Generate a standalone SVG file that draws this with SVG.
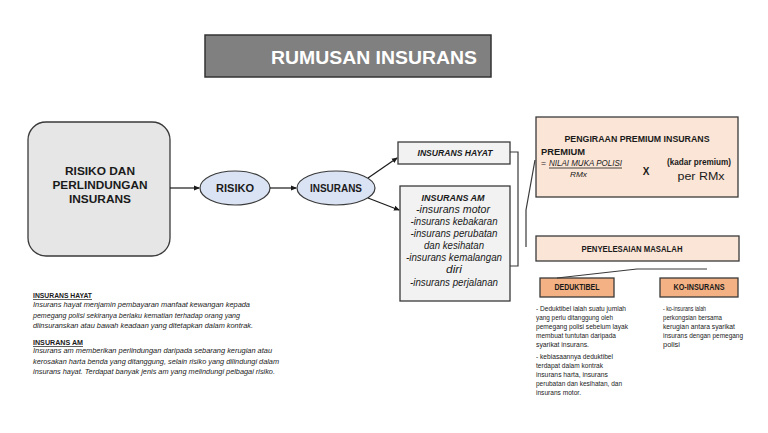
<svg xmlns="http://www.w3.org/2000/svg" width="768" height="433" viewBox="0 0 768 433">
<style>
text{font-family:"Liberation Sans",Arial,sans-serif;fill:#1a1a1a}
.b{font-weight:bold}
.i{font-style:italic}
.box{stroke:#3a3a3a;stroke-width:1.3}
.conn{stroke:#1a1a1a;stroke-width:1.2;fill:none}
.bl{stroke:#3a3a3a;stroke-width:1.2;fill:none}
.peach{fill:#fbe5d6}
.org{fill:#f4b183}
.ell{fill:#dae3f3;stroke:#3a3a3a;stroke-width:1.2}
</style>
<defs>
<marker id="ah" markerWidth="6" markerHeight="6" refX="5" refY="3" orient="auto" markerUnits="userSpaceOnUse">
<path d="M0,0.5 L6,3 L0,5.5 z" fill="#1a1a1a"/>
</marker>
</defs>
<rect width="768" height="433" fill="#ffffff"/>

<g id="title">
<rect x="205" y="35" width="286" height="42" fill="#808080" stroke="#333" stroke-width="1.5"/>
<text x="374" y="64" text-anchor="middle" class="b" font-size="18" style="fill:#ffffff" textLength="206" lengthAdjust="spacingAndGlyphs">RUMUSAN INSURANS</text>
</g>

<g id="risiko-perlindungan">
<rect x="28" y="122" width="142" height="134" rx="18" fill="#e6e6e6" class="box"/>
<text x="100" y="175" text-anchor="middle" class="b" font-size="11.5" textLength="70" lengthAdjust="spacingAndGlyphs">RISIKO DAN</text>
<text x="100" y="189" text-anchor="middle" class="b" font-size="11.5" textLength="95" lengthAdjust="spacingAndGlyphs">PERLINDUNGAN</text>
<text x="100" y="203" text-anchor="middle" class="b" font-size="11.5" textLength="62" lengthAdjust="spacingAndGlyphs">INSURANS</text>
</g>

<g id="risiko">
<ellipse cx="235" cy="188" rx="35" ry="17" class="ell"/>
<text x="235" y="192" text-anchor="middle" class="b" font-size="10" textLength="38" lengthAdjust="spacingAndGlyphs">RISIKO</text>
</g>

<g id="insurans">
<ellipse cx="336" cy="188" rx="39" ry="17" class="ell"/>
<text x="336" y="192" text-anchor="middle" class="b" font-size="10" textLength="52" lengthAdjust="spacingAndGlyphs">INSURANS</text>
</g>

<g id="insurans-hayat">
<rect x="398" y="142" width="112" height="22" fill="#f2f2f2" class="box"/>
<text x="455" y="156" text-anchor="middle" class="b i" font-size="9" textLength="75" lengthAdjust="spacingAndGlyphs">INSURANS HAYAT</text>
</g>

<g id="insurans-am">
<rect x="400" y="186" width="110" height="115" fill="#f2f2f2" class="box"/>
<text x="453" y="201" text-anchor="middle" class="b i" font-size="9.5" textLength="63" lengthAdjust="spacingAndGlyphs">INSURANS AM</text>
<text x="453" y="213" text-anchor="middle" class="i" font-size="10.5" textLength="74" lengthAdjust="spacingAndGlyphs">-insurans motor</text>
<text x="454" y="225" text-anchor="middle" class="i" font-size="10.5" textLength="87" lengthAdjust="spacingAndGlyphs">-insurans kebakaran</text>
<text x="454" y="237" text-anchor="middle" class="i" font-size="10.5" textLength="87" lengthAdjust="spacingAndGlyphs">-insurans perubatan</text>
<text x="454" y="249" text-anchor="middle" class="i" font-size="10.5" textLength="60" lengthAdjust="spacingAndGlyphs">dan kesihatan</text>
<text x="454" y="261" text-anchor="middle" class="i" font-size="10.5" textLength="96" lengthAdjust="spacingAndGlyphs">-insurans kemalangan</text>
<text x="454" y="273" text-anchor="middle" class="i" font-size="10.5" textLength="16" lengthAdjust="spacingAndGlyphs">diri</text>
<text x="454" y="286" text-anchor="middle" class="i" font-size="10.5" textLength="88" lengthAdjust="spacingAndGlyphs">-insurans perjalanan</text>
</g>

<g id="pengiraan">
<rect x="536" y="117" width="202" height="80" class="box peach"/>
<text x="637" y="142" text-anchor="middle" class="b" font-size="9.5" textLength="145" lengthAdjust="spacingAndGlyphs">PENGIRAAN PREMIUM INSURANS</text>
<text x="541" y="155" class="b" font-size="9.5" textLength="44" lengthAdjust="spacingAndGlyphs">PREMIUM</text>
<text x="541" y="166" font-size="8.5">=</text>
<text x="549" y="166" class="i" font-size="8.5" textLength="73" lengthAdjust="spacingAndGlyphs">NILAI MUKA POLISI</text>
<line x1="549" y1="168" x2="622" y2="168" stroke="#1a1a1a" stroke-width="0.8"/>
<text x="570" y="177" class="i" font-size="8" textLength="17" lengthAdjust="spacingAndGlyphs">RMx</text>
<text x="646" y="175" text-anchor="middle" class="b" font-size="10">X</text>
<text x="699" y="165" text-anchor="middle" class="b" font-size="8.5" textLength="64" lengthAdjust="spacingAndGlyphs">(kadar premium)</text>
<text x="701" y="180" text-anchor="middle" font-size="10.5" textLength="47" lengthAdjust="spacingAndGlyphs">per RMx</text>
</g>

<g id="penyelesaian">
<rect x="536" y="236" width="203" height="25" class="box peach"/>
<text x="632" y="252" text-anchor="middle" class="b" font-size="9" textLength="101" lengthAdjust="spacingAndGlyphs">PENYELESAIAN MASALAH</text>
</g>

<g id="deduktibel">
<rect x="540" y="278" width="74" height="19" class="box org"/>
<text x="577" y="290" text-anchor="middle" class="b" font-size="8.5" textLength="45" lengthAdjust="spacingAndGlyphs">DEDUKTIBEL</text>
</g>

<g id="ko-insurans">
<rect x="660" y="278" width="78" height="19" class="box org"/>
<text x="699" y="290" text-anchor="middle" class="b" font-size="8.5" textLength="51" lengthAdjust="spacingAndGlyphs">KO-INSURANS</text>
</g>

<g id="connectors">
<line x1="170" y1="188" x2="199" y2="188" class="conn" marker-end="url(#ah)"/>
<line x1="270" y1="188" x2="296" y2="188" class="conn" marker-end="url(#ah)"/>
<line x1="368" y1="178" x2="397" y2="158" class="conn" marker-end="url(#ah)"/>
<line x1="368" y1="198" x2="399" y2="210" class="conn" marker-end="url(#ah)"/>
<polyline points="510,152 518,152 518,266 510,266" class="bl"/>
<polyline points="535,160 526,210 526,247" class="bl"/>
<polyline points="557,278 637,269 707,269" class="bl"/>
</g>

<g id="nota-insurans">
<text x="33" y="298" class="b" font-size="7.5" textLength="59" lengthAdjust="spacingAndGlyphs">INSURANS HAYAT</text>
<line x1="33" y1="299.5" x2="92" y2="299.5" stroke="#1a1a1a" stroke-width="0.7"/>
<text x="33" y="307" class="i" font-size="7" textLength="217" lengthAdjust="spacingAndGlyphs">Insurans hayat menjamin pembayaran manfaat kewangan kepada</text>
<text x="33" y="318" class="i" font-size="7" textLength="207" lengthAdjust="spacingAndGlyphs">pemegang polisi sekiranya berlaku kematian terhadap orang yang</text>
<text x="33" y="328" class="i" font-size="7" textLength="220" lengthAdjust="spacingAndGlyphs">diinsuranskan atau bawah keadaan yang ditetapkan dalam kontrak.</text>
<text x="33" y="345" class="b" font-size="7.5" textLength="50" lengthAdjust="spacingAndGlyphs">INSURANS AM</text>
<line x1="33" y1="346.5" x2="83" y2="346.5" stroke="#1a1a1a" stroke-width="0.7"/>
<text x="33" y="353" class="i" font-size="7" textLength="239" lengthAdjust="spacingAndGlyphs">Insurans am memberikan perlindungan daripada sebarang kerugian atau</text>
<text x="33" y="364" class="i" font-size="7" textLength="246" lengthAdjust="spacingAndGlyphs">kerosakan harta benda yang ditanggung, selain risiko yang dilindungi dalam</text>
<text x="33" y="374" class="i" font-size="7" textLength="242" lengthAdjust="spacingAndGlyphs">insurans hayat. Terdapat banyak jenis am yang melindungi pelbagai risiko.</text>
</g>

<g id="nota-deduktibel">
<text x="536" y="311" font-size="6.5" textLength="90" lengthAdjust="spacingAndGlyphs">- Deduktibel ialah suatu jumlah</text>
<text x="536" y="320" font-size="6.5" textLength="77" lengthAdjust="spacingAndGlyphs">yang perlu ditanggung oleh</text>
<text x="536" y="329" font-size="6.5" textLength="92" lengthAdjust="spacingAndGlyphs">pemegang polisi sebelum layak</text>
<text x="536" y="338" font-size="6.5" textLength="80" lengthAdjust="spacingAndGlyphs">membuat tuntutan daripada</text>
<text x="536" y="347" font-size="6.5" textLength="53" lengthAdjust="spacingAndGlyphs">syarikat insurans.</text>
<text x="536" y="359" font-size="6.5" textLength="77" lengthAdjust="spacingAndGlyphs">- kebiasaannya deduktibel</text>
<text x="536" y="368" font-size="6.5" textLength="67" lengthAdjust="spacingAndGlyphs">terdapat dalam kontrak</text>
<text x="536" y="377" font-size="6.5" textLength="72" lengthAdjust="spacingAndGlyphs">insurans harta, insurans</text>
<text x="536" y="386" font-size="6.5" textLength="86" lengthAdjust="spacingAndGlyphs">perubatan dan kesihatan, dan</text>
<text x="536" y="395" font-size="6.5" textLength="45" lengthAdjust="spacingAndGlyphs">insurans motor.</text>
</g>

<g id="nota-ko-insurans">
<text x="663" y="311" font-size="6.5" textLength="43" lengthAdjust="spacingAndGlyphs">- ko-insurans ialah</text>
<text x="663" y="320" font-size="6.5" textLength="59" lengthAdjust="spacingAndGlyphs">perkongsian bersama</text>
<text x="663" y="329" font-size="6.5" textLength="72" lengthAdjust="spacingAndGlyphs">kerugian antara syarikat</text>
<text x="663" y="338" font-size="6.5" textLength="80" lengthAdjust="spacingAndGlyphs">insurans dengan pemegang</text>
<text x="663" y="347" font-size="6.5" textLength="17" lengthAdjust="spacingAndGlyphs">polisi</text>
</g>
</svg>
